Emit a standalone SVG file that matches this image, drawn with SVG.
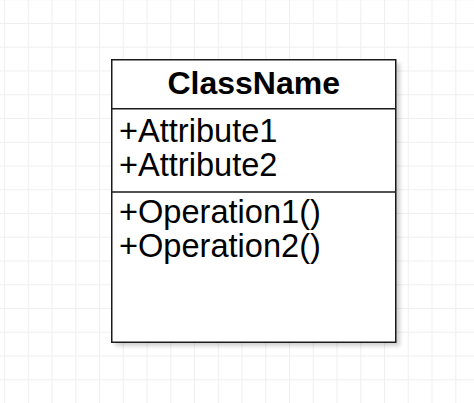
<svg xmlns="http://www.w3.org/2000/svg" width="474" height="403" viewBox="0 0 474 403">
  <defs>
    <pattern id="grid" x="4" y="-0.75" width="23.75" height="23.75" patternUnits="userSpaceOnUse">
      <path d="M0.5 0V23.75M0 0.5H23.75" fill="none" stroke="#efefef" stroke-width="1.2"/>
    </pattern>
    <filter id="shadow" x="-10%" y="-10%" width="130%" height="130%">
      <feGaussianBlur stdDeviation="2"/>
    </filter>
  </defs>
  <style>
    .box { fill: #ffffff; stroke: #1a1a1a; stroke-width: 1.5; }
    .sep { stroke: #1a1a1a; stroke-width: 1.5; }
    .title { font-family: "Liberation Sans", Arial, sans-serif; font-weight: bold; font-size: 32px; fill: #000; text-anchor: middle; }
    .member { font-family: "Liberation Sans", Arial, sans-serif; font-size: 32.6px; fill: #000; }
  </style>
  <rect x="0" y="0" width="474" height="403" fill="#ffffff"/>
  <rect x="0" y="0" width="474" height="403" fill="url(#grid)"/>
  <g id="class-node">
    <rect x="115" y="63" width="285" height="283" fill="#000" opacity="0.18" filter="url(#shadow)"/>
    <rect class="box" x="111.75" y="59.75" width="284" height="282.5"/>
    <line class="sep" x1="111.75" y1="108.75" x2="395.75" y2="108.75"/>
    <line class="sep" x1="111.75" y1="192" x2="395.75" y2="192"/>
    <text class="title" x="253.75" y="94">ClassName</text>
    <text class="member" x="119" y="141.5">+Attribute1</text>
    <text class="member" x="119" y="176">+Attribute2</text>
    <text class="member" x="119" y="222.5">+Operation1()</text>
    <text class="member" x="119" y="257">+Operation2()</text>
  </g>
  <g id="connectors"/>
</svg>
